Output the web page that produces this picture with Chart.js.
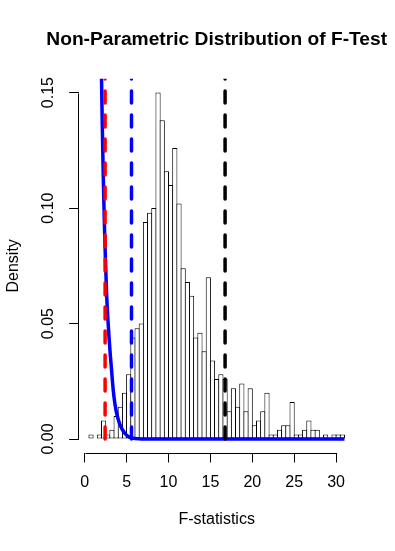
<!DOCTYPE html>
<html>
<head>
<meta charset="utf-8">
<script src="https://cdn.jsdelivr.net/npm/chart.js@4/dist/chart.umd.min.js"></script>
<style>
html,body{margin:0;padding:0;background:#ffffff;}
canvas{display:block;}
</style>
</head>
<body>
<canvas id="c" width="395" height="551"></canvas>
<script>
// ---- data ----
const binMids = [0.75,1.25,1.75,2.25,2.75,3.25,3.75,4.25,4.75,5.25,
                 5.75,6.25,6.75,7.25,7.75,8.25,8.75,9.25,9.75,10.25,
                 10.75,11.25,11.75,12.25,12.75,13.25,13.75,14.25,14.75,15.25,
                 15.75,16.25,16.75,17.25,17.75,18.25,18.75,19.25,19.75,20.25,
                 20.75,21.25,21.75,22.25,22.75,23.25,23.75,24.25,24.75,25.25,
                 25.75,26.25,26.75,27.25,27.75,28.25,28.75,29.25,29.75,30.25,
                 30.75];
const density = [0.002,0,0.002,0.008,0.002,0.004,0.010,0.014,0.020,0.028,
                 0.044,0.048,0.050,0.094,0.098,0.100,0.150,0.138,0.116,0.110,
                 0.126,0.102,0.074,0.068,0.062,0.044,0.046,0.038,0.070,0.034,
                 0.026,0.028,0.026,0.012,0.022,0.014,0.024,0.012,0.022,0.006,
                 0.008,0.012,0.020,0.002,0.002,0.004,0.006,0.006,0.016,0.002,
                 0.002,0.004,0.008,0.004,0.004,0,0.002,0,0.002,0.002,
                 0.002];
const curveX = [1.85,2.0,2.1,2.2,2.3,2.4,2.5,2.6,2.73,2.9,3.06,3.2,3.33,3.5,3.73,4.0,4.33,4.6,4.92,5.2,5.5,6.0,6.5,7.0,31.0];
const curveY = [0.200,0.157,0.135,0.116,0.100,0.086,0.075,0.064,0.054,0.044,0.036,0.030,0.024,0.018,0.0125,0.0085,0.0052,0.0035,0.0019,0.0011,0.0006,0.0002,0.0001,0,0];
const cutoffRed = 2.43;
const cutoffBlue = 5.58;
const cutoffBlack = 16.75;
const lineTop = 0.156;
const xTicks = [0,5,10,15,20,25,30];
const xTickLabels = ['0','5','10','15','20','25','30'];
const yTicks = [0,0.05,0.10,0.15];
const yTickLabels = ['0.00','0.05','0.10','0.15'];
const titleText = 'Non-Parametric Distribution of F-Test';
const xTitle = 'F-statistics';
const yTitle = 'Density';

// ---- chart ----
Chart.defaults.font.family = "'Liberation Sans', Arial, sans-serif";
Chart.defaults.color = '#000000';

const bars = binMids.map((x, i) => ({x: x, y: density[i]}));
const curve = curveX.map((x, i) => ({x: x, y: curveY[i]}));
const vline = (x) => [{x: x, y: 0}, {x: x, y: lineTop}];

const rAxes = {
  id: 'rAxes',
  afterDraw(chart) {
    const {ctx, chartArea} = chart;
    const xs = chart.scales.x, ys = chart.scales.y;
    ctx.save();
    ctx.strokeStyle = '#000000';
    ctx.lineWidth = 1;
    ctx.beginPath();
    const yb = Math.round(chartArea.bottom) + 0.5;
    ctx.moveTo(Math.round(xs.getPixelForValue(xTicks[0])) + 0.5, yb);
    ctx.lineTo(Math.round(xs.getPixelForValue(xTicks[xTicks.length - 1])) + 0.5, yb);
    const xl = Math.round(chartArea.left) - 0.5;
    ctx.moveTo(xl, Math.round(ys.getPixelForValue(yTicks[0])) + 0.5);
    ctx.lineTo(xl, Math.round(ys.getPixelForValue(yTicks[yTicks.length - 1])) + 0.5);
    ctx.stroke();
    ctx.restore();
  }
};

new Chart(document.getElementById('c'), {
  type: 'bar',
  data: {
    datasets: [
      {
        type: 'bar', data: bars,
        backgroundColor: '#ffffff', borderColor: '#000000', borderWidth: 1,
        borderSkipped: false, barPercentage: 1.24, categoryPercentage: 1,
        inflateAmount: 0, order: 10
      },
      {
        type: 'line', data: curve,
        borderColor: '#0000FF', borderWidth: 3.5, pointRadius: 0,
        cubicInterpolationMode: 'monotone', fill: false, clip: 0, order: 3
      },
      {
        type: 'line', data: vline(cutoffRed),
        borderColor: '#FF0000', borderWidth: 3.5, borderDash: [12, 12],
        borderCapStyle: 'round', pointRadius: 0, fill: false, clip: 0, order: 1
      },
      {
        type: 'line', data: vline(cutoffBlue),
        borderColor: '#0000FF', borderWidth: 3.5, borderDash: [12, 12],
        borderCapStyle: 'round', pointRadius: 0, fill: false, clip: 0, order: 1
      },
      {
        type: 'line', data: vline(cutoffBlack),
        borderColor: '#000000', borderWidth: 3.5, borderDash: [12, 12],
        borderCapStyle: 'round', pointRadius: 0, fill: false, clip: 0, order: 1
      }
    ]
  },
  options: {
    responsive: false,
    animation: false,
    devicePixelRatio: 1,
    layout: {padding: {left: 38.4, right: 0, top: 0, bottom: 0}},
    plugins: {
      legend: {display: false},
      tooltip: {enabled: false},
      title: {
        display: true, text: titleText, fullSize: true,
        color: '#000000',
        font: {size: 19.2, weight: 'bold'},
        padding: {top: 28.5, bottom: 27.2}
      }
    },
    scales: {
      x: {
        type: 'linear', min: -0.72, max: 32.22, offset: false,
        afterBuildTicks: s => { s.ticks = xTicks.map(v => ({value: v})); },
        afterFit: s => { s.height = 98.1; },
        border: {display: false},
        grid: {offset: false, drawOnChartArea: false, drawTicks: true, tickLength: 9.6, tickColor: '#000000', tickWidth: 1, color: '#000000'},
        ticks: {
          color: '#000000', font: {size: 16}, padding: 10.4,
          maxRotation: 0, minRotation: 0, autoSkip: false,
          callback: (v, i) => xTickLabels[i]
        },
        title: {display: true, text: xTitle, color: '#000000', font: {size: 16}, padding: {top: 0, bottom: 21.4}}
      },
      y: {
        type: 'linear', position: 'left', min: -0.006, max: 0.156,
        afterBuildTicks: s => { s.ticks = yTicks.map(v => ({value: v})); },
        afterFit: s => { s.width = 40.3; },
        border: {display: false},
        grid: {drawOnChartArea: false, drawTicks: true, tickLength: 9.6, tickColor: '#000000', tickWidth: 1, color: '#000000'},
        ticks: {
          color: '#000000', font: {size: 16}, padding: 5.2,
          minRotation: 90, maxRotation: 90, crossAlign: 'center', autoSkip: false,
          callback: (v, i) => yTickLabels[i]
        },
        title: {display: true, text: yTitle, color: '#000000', font: {size: 16}, padding: {top: -34.6, bottom: 0}}
      },
      yMargin: {
        type: 'linear', position: 'right', display: true,
        afterFit: s => { s.width = 40.3; },
        border: {display: false},
        grid: {display: false},
        ticks: {display: false}
      }
    }
  },
  plugins: [rAxes]
});
</script>
</body>
</html>
